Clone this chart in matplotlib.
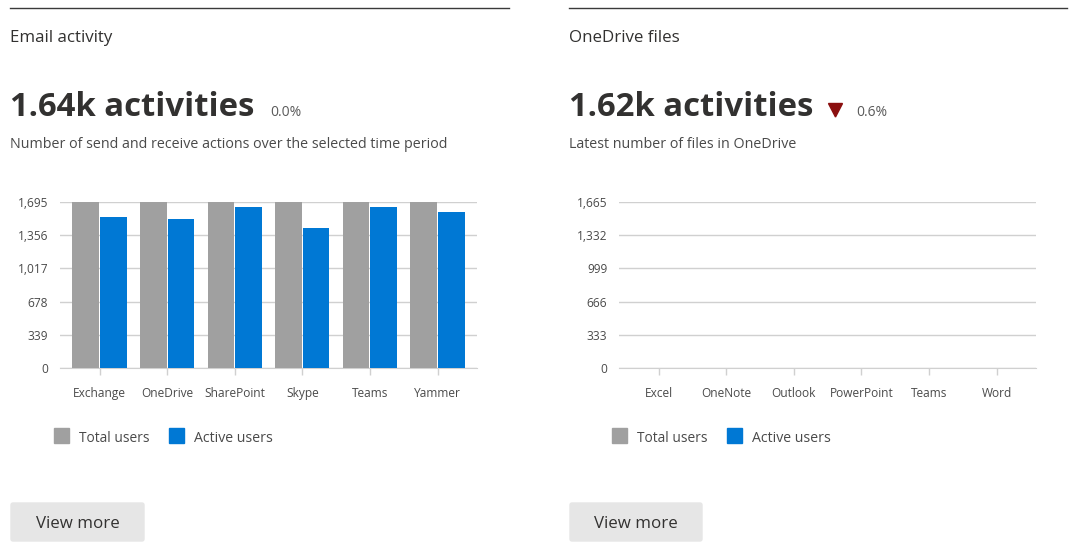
import matplotlib
matplotlib.use('Agg')
import matplotlib.pyplot as plt
from matplotlib.patches import Rectangle, FancyBboxPatch, Polygon
import numpy as np

plt.rcParams['font.family'] = ['Open Sans', 'DejaVu Sans']

# data
email_cats = ['Exchange', 'OneDrive', 'SharePoint', 'Skype', 'Teams', 'Yammer']
email_total = [1695, 1695, 1695, 1695, 1695, 1695]
email_active = [1542, 1522, 1644, 1430, 1644, 1590]
email_ticks = [0, 339, 678, 1017, 1356, 1695]

files_cats = ['Excel', 'OneNote', 'Outlook', 'PowerPoint', 'Teams', 'Word']
files_total = [0, 0, 0, 0, 0, 0]
files_active = [0, 0, 0, 0, 0, 0]
files_ticks = [0, 333, 666, 999, 1332, 1665]

W, H = 1070, 560
fig = plt.figure(figsize=(W / 100, H / 100), dpi=100)

# overlay in pixel coords, y going down like the screenshot
bg = fig.add_axes([0, 0, 1, 1])
bg.set_xlim(0, W)
bg.set_ylim(H, 0)
bg.axis('off')

dark = '#323130'
grey_txt = '#4a4a4a'
gray_bar = '#a0a0a0'
blue_bar = '#0078d4'


def bar_panel(x0, x1, first_center, cats, total, active, ticks):
    top, base = 202, 368
    ax = fig.add_axes([x0 / W, 1 - base / H, (x1 - x0) / W, (base - top) / H])
    step = 67.6
    pos = np.arange(len(cats))
    ax.set_xlim((x0 - first_center) / step, (x1 - first_center) / step)
    ax.set_ylim(0, ticks[-1])
    w = 26.5 / step
    off = 13.8 / step
    ax.bar(pos - off, total, w, color=gray_bar, zorder=3)
    ax.bar(pos + off, active, w, color=blue_bar, zorder=3)
    ax.set_yticks(ticks)
    ax.set_yticklabels([f'{t:,}' for t in ticks], fontsize=8.6, color=grey_txt)
    ax.set_xticks(pos)
    ax.set_xticklabels(cats, fontsize=8.6, color=grey_txt)
    ax.tick_params(axis='y', length=0, pad=8.5)
    ax.tick_params(axis='x', length=5, width=1, color='#d0d0d0', pad=8.5)
    ax.grid(axis='y', color='#d0d0d0', lw=1, zorder=0)
    ax.set_axisbelow(True)
    for s in ['top', 'right', 'left']:
        ax.spines[s].set_visible(False)
    ax.spines['bottom'].set_color('#d0d0d0')
    ax.patch.set_alpha(0)


def header(x, rule_end, title, big, pct, pct_x, sub):
    bg.plot([x, rule_end], [7.5, 7.5], color='#3a3a3a', lw=1)
    bg.text(x, 37.5, title, fontsize=12.2, color=dark, va='center', ha='left')
    bg.text(x, 107, big, fontsize=23.7, fontweight='bold', color=dark, va='center', ha='left')
    bg.text(pct_x, 112.5, pct, fontsize=10, color='#5a5a5a', va='center', ha='left')
    bg.text(x, 144.5, sub, fontsize=10.25, color=grey_txt, va='center', ha='left')


def legend(x):
    bg.add_patch(Rectangle((x, 428), 15, 15, color=gray_bar))
    bg.text(x + 25, 438, 'Total users', fontsize=9.9, color=grey_txt, va='center')
    bg.add_patch(Rectangle((x + 115, 428), 15, 15, color=blue_bar))
    bg.text(x + 140, 438, 'Active users', fontsize=10.2, color=grey_txt, va='center')


def button(x, w):
    bg.add_patch(FancyBboxPatch((x + 1, 503), w - 2, 38, boxstyle='round,pad=0,rounding_size=2',
                                fc='#e6e6e6', ec='#e6e6e6', lw=1))
    bg.text(x + w / 2, 524.5, 'View more', fontsize=12.2, color=dark, va='center', ha='center')


header(10, 509, 'Email activity', '1.64k activities', '0.0%', 270,
       'Number of send and receive actions over the selected time period')
header(569, 1067, 'OneDrive files', '1.62k activities', '0.6%', 856,
       'Latest number of files in OneDrive')
bg.add_patch(Polygon([[828.5, 103.5], [842.5, 103.5], [835.5, 117]], color='#8b0f0f'))

bar_panel(60, 477, 99.5, email_cats, email_total, email_active, email_ticks)
bar_panel(619, 1036, 658.5, files_cats, files_total, files_active, files_ticks)

legend(54)
legend(612)
button(10, 135)
button(569, 134)

fig.savefig('out.png', dpi=100)
